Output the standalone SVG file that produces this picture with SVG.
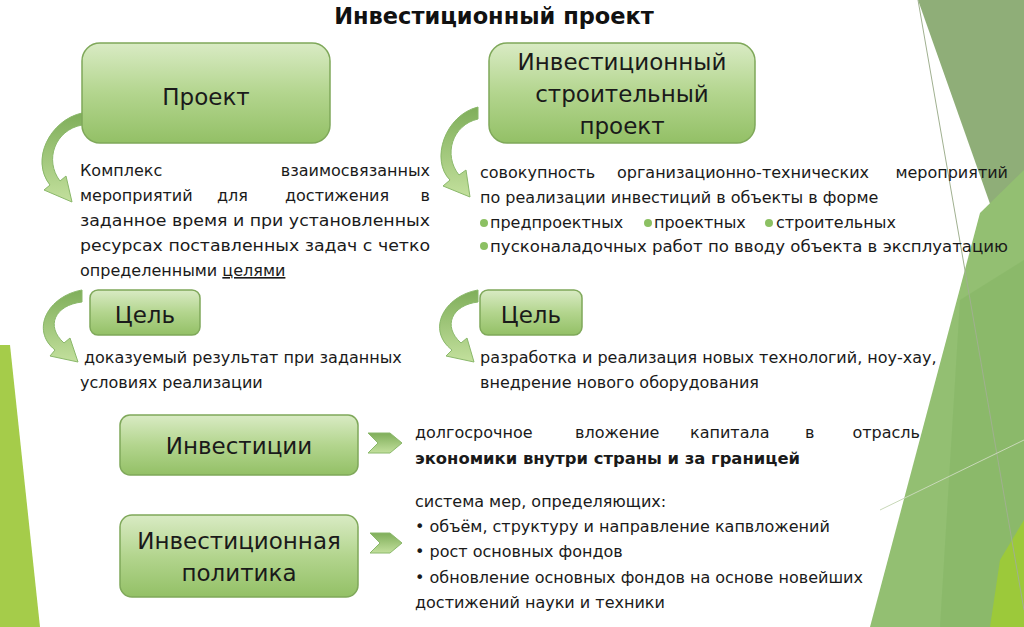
<svg xmlns="http://www.w3.org/2000/svg" width="1024" height="627" viewBox="0 0 1024 627">
<defs>
<linearGradient id="g" x1="0" y1="0" x2="0" y2="1"><stop offset="0" stop-color="#d9ebc4"/><stop offset="0.5" stop-color="#b3d58e"/><stop offset="1" stop-color="#93c066"/></linearGradient>
<linearGradient id="ag" x1="0" y1="0" x2="0" y2="1"><stop offset="0" stop-color="#7fae5a"/><stop offset="1" stop-color="#c3e09d"/></linearGradient>
<style>
.box{fill:url(#g);stroke:#7fa85a;stroke-width:1.5}
.bt{font-family:"DejaVu Sans",sans-serif;font-size:23px;fill:#1a1a1a;text-anchor:middle}
.t{font-family:"DejaVu Sans",sans-serif;font-size:16px;fill:#1a1a1a}
.arr{fill:url(#ag);stroke:#8ab86a;stroke-width:1}
.dot{fill:#8cc063}
</style>
</defs>
<rect width="1024" height="627" fill="#fff"/>
<g id="decor">
<polygon points="918,0 1024,0 1024,300" fill="#8fae78"/>
<polygon points="980,213 1024,170 1024,627 870,627" fill="#93bf72"/>
<polygon points="960,300 1024,260 1024,627 940,627" fill="#86b666" opacity="0.6"/>
<polygon points="1000,560 1024,520 1024,627 990,627" fill="#9cc93a"/>
<line x1="918" y1="0" x2="1024" y2="610" stroke="#a0b090" stroke-width="1"/>
<line x1="880" y1="510" x2="1024" y2="440" stroke="#c8d8b8" stroke-width="1"/>
<polygon points="0,345 10,345 40,627 0,627" fill="#a5cc4a"/>
</g>
<text x="494" y="24" font-family="DejaVu Sans,sans-serif" font-size="22.5" font-weight="bold" text-anchor="middle" fill="#111">Инвестиционный проект</text>
<g id="connectors">
<path class="arr" d="M82,113 C50,120 30,160 50,185 L44,190 L72,202 L66,176 L60,181 C44,160 55,130 82,125 Z"/>
<path class="arr" d="M478,107 C445,115 430,160 450,180 L443,186 L470,197 L466,170 L459,175 C443,155 452,125 478,119 Z"/>
<path class="arr" d="M82,290 C48,296 30,330 55,350 L50,356 L78,362 L70,338 L64,343 C45,326 55,305 82,302 Z"/>
<path class="arr" d="M478,290 C444,296 426,330 452,350 L446,356 L474,362 L467,338 L461,343 C442,326 452,305 478,302 Z"/>
<polygon class="arr" points="368,433 390,433 402,443 390,453 368,453 378,443"/>
<polygon class="arr" points="370,533 390,533 402,543 390,553 370,553 380,543"/>
</g>
<g id="n-proekt"><rect class="box" x="82" y="43" width="248" height="100" rx="18"/><text class="bt" x="206" y="105">Проект</text></g>
<g id="n-isp"><rect class="box" x="489" y="43" width="266" height="100" rx="18"/><text class="bt" x="622" y="70">Инвестиционный</text><text class="bt" x="622" y="102">строительный</text><text class="bt" x="622" y="134">проект</text></g>
<g id="n-cel1"><rect class="box" x="90" y="290" width="110" height="45" rx="8"/><text class="bt" x="145" y="323">Цель</text></g>
<g id="n-cel2"><rect class="box" x="480" y="290" width="102" height="45" rx="8"/><text class="bt" x="531" y="323">Цель</text></g>
<g id="n-inv"><rect class="box" x="120" y="415" width="238" height="60" rx="10"/><text class="bt" x="239" y="454">Инвестиции</text></g>
<g id="n-ip"><rect class="box" x="120" y="515" width="238" height="82" rx="12"/><text class="bt" x="239" y="549">Инвестиционная</text><text class="bt" x="239" y="581">политика</text></g>
<g id="texts">
<text class="t" x="80" y="176">Комплекс<tspan x="430" text-anchor="end">взаимосвязанных</tspan></text>
<text class="t" x="80" y="201">мероприятий<tspan x="217">для</tspan><tspan x="285">достижения</tspan><tspan x="430" text-anchor="end">в</tspan></text>
<text class="t" x="80" y="226" textLength="350" lengthAdjust="spacingAndGlyphs">заданное время и при установленных</text>
<text class="t" x="80" y="251" textLength="350" lengthAdjust="spacingAndGlyphs">ресурсах поставленных задач с четко</text>
<text class="t" x="80" y="276">определенными <tspan text-decoration="underline">целями</tspan></text>
<text class="t" x="480" y="178">совокупность<tspan x="617">организационно-технических</tspan><tspan x="1008" text-anchor="end">мероприятий</tspan></text>
<text class="t" x="480" y="203">по реализации инвестиций в объекты в форме</text>
<circle class="dot" cx="484" cy="223" r="4"/><text class="t" x="490" y="228">предпроектных</text>
<circle class="dot" cx="648" cy="223" r="4"/><text class="t" x="654" y="228">проектных</text>
<circle class="dot" cx="769" cy="223" r="4"/><text class="t" x="776" y="228">строительных</text>
<circle class="dot" cx="484" cy="246" r="4"/><text class="t" x="490" y="252" textLength="518" lengthAdjust="spacingAndGlyphs">пусконаладочных работ по вводу объекта в эксплуатацию</text>
<text class="t" x="84" y="363"> доказуемый результат при заданных</text>
<text class="t" x="80" y="388">условиях реализации</text>
<text class="t" x="480" y="363">разработка и реализация новых технологий, ноу-хау,</text>
<text class="t" x="480" y="388">внедрение нового оборудования</text>
<text class="t" x="415" y="438">долгосрочное<tspan x="575">вложение</tspan><tspan x="690">капитала</tspan><tspan x="805">в</tspan><tspan x="920" text-anchor="end">отрасль</tspan></text>
<text class="t" x="415" y="464" font-weight="bold" textLength="385" lengthAdjust="spacingAndGlyphs">экономики внутри страны и за границей</text>
<text class="t" x="415" y="507">система мер, определяющих:</text>
<text class="t" x="415" y="532">• объём, структуру и направление капвложений</text>
<text class="t" x="415" y="557">• рост основных фондов</text>
<text class="t" x="415" y="583">• обновление основных фондов на основе новейших</text>
<text class="t" x="415" y="608">достижений науки и техники</text>
</g>
</svg>
